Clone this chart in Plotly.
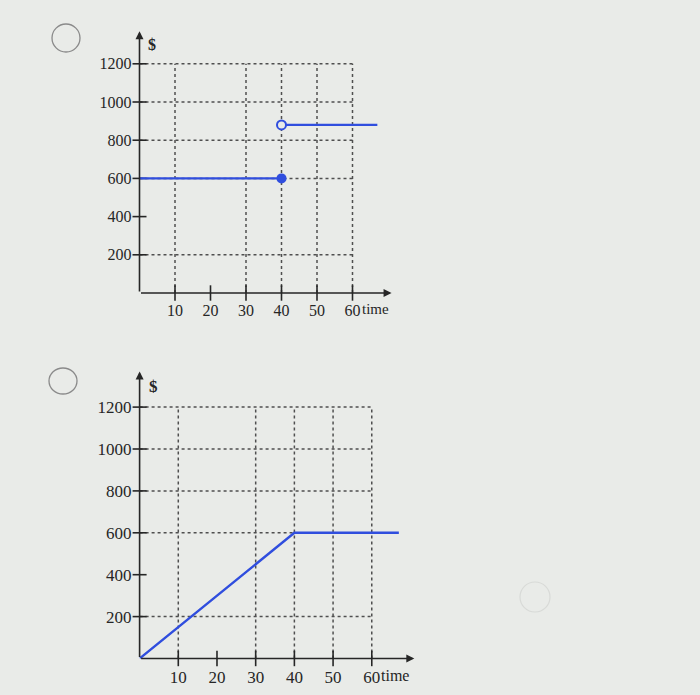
import plotly.graph_objects as go

# данные верхнего графика (ступенька)
top_low_x = [0, 40]
top_low_y = [600, 600]
top_high_x = [40, 67]
top_high_y = [880, 880]

# данные нижнего графика (рост, затем плато)
bot_x = [0, 40, 67]
bot_y = [0, 600, 600]

# деления и сетка
x_ticks = [10, 20, 30, 40, 50, 60]
y_ticks = [200, 400, 600, 800, 1000, 1200]
x_grid = [10, 30, 40, 50, 60]
y_grid = [200, 600, 800, 1000, 1200]
x_max, y_max = 60, 1200

BLUE = 'rgb(48,78,222)'
INK = '#262626'
BG = '#e9ebe8'
FONT = 'Liberation Serif'

fig = go.Figure()


def grid_traces(xa, ya):
    gx, gy = [], []
    for v in x_grid:
        gx += [v, v, None]
        gy += [0, y_max, None]
    for v in y_grid:
        gx += [0, x_max, None]
        gy += [v, v, None]
    fig.add_trace(go.Scatter(x=gx, y=gy, mode='lines', xaxis=xa, yaxis=ya,
                             line=dict(color='#4f4f4f', width=1.5, dash='dot'),
                             hoverinfo='skip'))
    # засечки, пересекающие оси
    fig.add_trace(go.Scatter(x=x_ticks, y=[0] * len(x_ticks), mode='markers',
                             xaxis=xa, yaxis=ya, cliponaxis=False,
                             marker=dict(symbol='line-ns-open', size=11, color=INK,
                                         line=dict(color=INK, width=1.6)),
                             hoverinfo='skip'))
    fig.add_trace(go.Scatter(x=[0] * len(y_ticks), y=y_ticks, mode='markers',
                             xaxis=xa, yaxis=ya, cliponaxis=False,
                             marker=dict(symbol='line-ew-open', size=10, color=INK,
                                         line=dict(color=INK, width=1.6)),
                             hoverinfo='skip'))


# верхний график
grid_traces('x', 'y')
fig.add_trace(go.Scatter(x=top_low_x, y=top_low_y, mode='lines', cliponaxis=False,
                         line=dict(color=BLUE, width=2.2), hoverinfo='skip'))
fig.add_trace(go.Scatter(x=top_high_x, y=top_high_y, mode='lines', cliponaxis=False,
                         line=dict(color=BLUE, width=2.2), hoverinfo='skip'))
fig.add_trace(go.Scatter(x=[top_low_x[-1]], y=[top_low_y[-1]], mode='markers',
                         marker=dict(size=10, color=BLUE), hoverinfo='skip'))
fig.add_trace(go.Scatter(x=[top_high_x[0]], y=[top_high_y[0]], mode='markers',
                         marker=dict(size=9, color=BG, line=dict(color=BLUE, width=2)),
                         hoverinfo='skip'))

# нижний график
grid_traces('x2', 'y2')
fig.add_trace(go.Scatter(x=bot_x, y=bot_y, mode='lines', xaxis='x2', yaxis='y2',
                         cliponaxis=False, line=dict(color=BLUE, width=2.4),
                         hoverinfo='skip'))

annotations = []
for xa, ya, fs, dx in [('x', 'y', 16, 7), ('x2', 'y2', 17, 7)]:
    # оси со стрелками
    annotations.append(dict(x=71, y=0, ax=0, ay=0, xref=xa, yref=ya, axref=xa, ayref=ya,
                            text='', showarrow=True, arrowhead=2, arrowsize=1,
                            arrowwidth=1.6, arrowcolor=INK))
    annotations.append(dict(x=0, y=1370, ax=0, ay=0, xref=xa, yref=ya, axref=xa, ayref=ya,
                            text='', showarrow=True, arrowhead=2, arrowsize=1,
                            arrowwidth=1.6, arrowcolor=INK))
    annotations.append(dict(x=60, y=0, xref=xa, yref=ya, text='time', showarrow=False,
                            xanchor='left', yanchor='top', xshift=dx, yshift=-6,
                            font=dict(family=FONT, size=fs - 1, color=INK)))
    annotations.append(dict(x=3.6, y=1300, xref=xa, yref=ya, text='<b>$</b>', showarrow=False,
                            xanchor='center', yanchor='middle',
                            font=dict(family=FONT, size=fs, color=INK)))

axis_common = dict(showgrid=False, zeroline=False, showline=False, ticks='',
                   fixedrange=True)

fig.update_layout(
    width=700, height=695,
    margin=dict(l=0, r=0, t=0, b=0),
    paper_bgcolor=BG, plot_bgcolor='rgba(0,0,0,0)',
    showlegend=False,
    xaxis=dict(domain=[139.5 / 700, 395.1 / 700], range=[0, 72], anchor='y',
               tickvals=x_ticks, ticktext=[str(v) for v in x_ticks], ticklabelstandoff=6,
               tickfont=dict(family=FONT, size=16, color=INK), **axis_common),
    yaxis=dict(domain=[(695 - 293) / 695, (695 - 25.6) / 695], range=[0, 1400], anchor='x',
               tickvals=y_ticks, ticktext=[str(v) for v in y_ticks], ticklabelstandoff=7,
               tickfont=dict(family=FONT, size=16, color=INK), **axis_common),
    xaxis2=dict(domain=[139.6 / 700, 418.2 / 700], range=[0, 72], anchor='y2',
                tickvals=x_ticks, ticktext=[str(v) for v in x_ticks], ticklabelstandoff=6,
                tickfont=dict(family=FONT, size=17, color=INK), **axis_common),
    yaxis2=dict(domain=[(695 - 658.5) / 695, (695 - 365.2) / 695], range=[0, 1400], anchor='x2',
                tickvals=y_ticks, ticktext=[str(v) for v in y_ticks], ticklabelstandoff=7,
                tickfont=dict(family=FONT, size=17, color=INK), **axis_common),
    annotations=annotations,
    shapes=[
        # кружки выбора ответа
        dict(type='circle', xref='paper', yref='paper',
             x0=52 / 700, x1=80 / 700, y0=(695 - 52) / 695, y1=(695 - 24) / 695,
             line=dict(color='#8a8a8a', width=1.3), fillcolor='rgba(0,0,0,0)'),
        dict(type='circle', xref='paper', yref='paper',
             x0=49 / 700, x1=77 / 700, y0=(695 - 394) / 695, y1=(695 - 368) / 695,
             line=dict(color='#8a8a8a', width=1.3), fillcolor='rgba(0,0,0,0)'),
        dict(type='circle', xref='paper', yref='paper',
             x0=520 / 700, x1=550 / 700, y0=(695 - 612) / 695, y1=(695 - 582) / 695,
             line=dict(color='#d8dad7', width=1.2), fillcolor='rgba(0,0,0,0)'),
    ],
)

fig.write_html("out.html", config={'displayModeBar': False},
               post_script="document.body.style.margin='0';"
                           "document.body.style.background='#e9ebe8';")
